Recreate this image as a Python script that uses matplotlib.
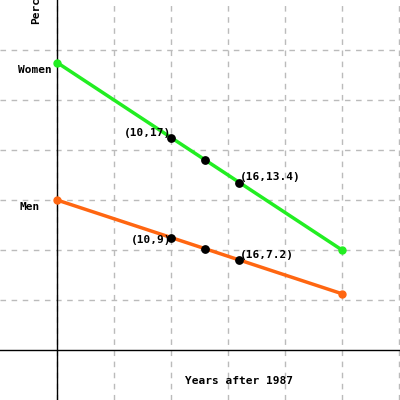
import matplotlib
matplotlib.use("Agg")
import matplotlib.pyplot as plt

years = [0, 25]
women = [23, 8]
men = [12, 4.5]
pts_x = [10, 13, 16]
women_pts = [17, 15.2, 13.4]
men_pts = [9, 8.1, 7.2]

fig = plt.figure(figsize=(4, 4), dpi=100)
ax = fig.add_axes([0, 0, 1, 1])
ax.set_xlim(-5, 30.09)
ax.set_ylim(-4, 28)
for s in ax.spines.values():
    s.set_visible(False)
ax.set_xticks([])
ax.set_yticks([])

for gx in [0, 5, 10, 15, 20, 25, 30]:
    ax.axvline(gx, color="#bbbbbb", ls=(0, (4, 4)), lw=1, zorder=0)
for gy in [4, 8, 12, 16, 20, 24]:
    ax.axhline(gy, color="#bbbbbb", ls=(0, (4, 4)), lw=1, zorder=0)
ax.axhline(0, color="black", lw=1, zorder=1)
ax.axvline(0, color="black", lw=1, zorder=1)

ax.plot(years, women, color="#22ee22", lw=2.5, marker="o", ms=5, zorder=2)
ax.plot(years, men, color="#ff6611", lw=2.5, marker="o", ms=5, zorder=2)
ax.scatter(pts_x, women_pts, color="black", s=28, zorder=3)
ax.scatter(pts_x, men_pts, color="black", s=28, zorder=3)

font = dict(family="DejaVu Sans Mono", fontsize=8, fontweight="bold")
ax.text(-0.5, women[0] - 0.6, "Women", ha="right", va="center", **font)
ax.text(-1.5, men[0] - 0.6, "Men", ha="right", va="center", **font)
ax.text(10, women_pts[0] + 0.4, "(10,17)", ha="right", va="center", **font)
ax.text(16, women_pts[2] + 0.4, "(16,13.4)", ha="left", va="center", **font)
ax.text(10, men_pts[0] - 0.2, "(10,9)", ha="right", va="center", **font)
ax.text(16, men_pts[2] + 0.4, "(16,7.2)", ha="left", va="center", **font)
ax.text(16, -2.5, "Years after 1987", ha="center", va="center", **font)
ax.text(-1.8, 28, "Percent", ha="center", va="center", rotation=90, **font)

fig.savefig("out.png", dpi=100)
